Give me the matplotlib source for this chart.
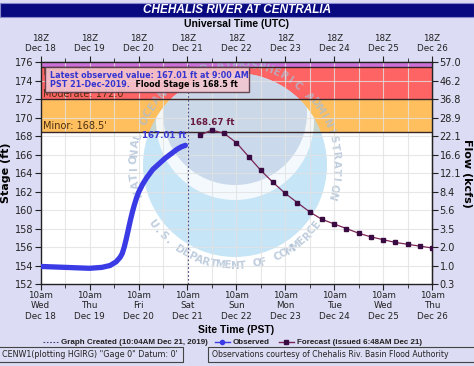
import numpy as np
import matplotlib
matplotlib.use('Agg')
import matplotlib.pyplot as plt
import matplotlib.dates as mdates
from matplotlib.patches import Rectangle, Circle
from matplotlib.lines import Line2D
from matplotlib.transforms import Affine2D
from datetime import datetime, timedelta

# ---------------- data (read off the hydrograph) ----------------
# hours after 10am PST Wed Dec 18, 2019
obs_hours = [0, 6, 12, 18, 24, 30, 34, 37, 39, 40, 41, 42, 43, 44, 45, 46,
             47, 48, 50, 52, 55, 58, 61, 64, 67, 69, 71]
obs_stage = [153.9, 153.85, 153.8, 153.75, 153.7, 153.8, 154.0, 154.4, 154.9,
             155.3, 156.0, 156.9, 157.9, 158.9, 159.8, 160.6, 161.3, 161.9,
             162.8, 163.5, 164.4, 165.0, 165.6, 166.1, 166.6, 166.85, 167.01]
fc_hours = [78, 84, 90, 96, 102, 108, 114, 120, 126, 132, 138, 144, 150, 156,
            162, 168, 174, 180, 186, 192]
fc_stage = [168.1, 168.67, 168.3, 167.3, 165.8, 164.3, 163.0, 161.8, 160.8,
            159.8, 159.0, 158.5, 158.0, 157.5, 157.1, 156.8, 156.5, 156.3,
            156.1, 155.9]
stage_ticks = [152, 154, 156, 158, 160, 162, 164, 166, 168, 170, 172, 174, 176]
flow_labels = ['0.3', '1.0', '2.0', '3.5', '5.6', '8.4', '12.1', '16.6', '22.1',
               '28.9', '36.8', '46.2', '57.0']
weekdays = ['Wed', 'Thu', 'Fri', 'Sat', 'Sun', 'Mon', 'Tue', 'Wed', 'Thu']
day_labels = ['Dec 18', 'Dec 19', 'Dec 20', 'Dec 21', 'Dec 22', 'Dec 23',
              'Dec 24', 'Dec 25', 'Dec 26']
minor_fs, moderate_fs, major_fs = 168.5, 172.0, 175.5
latest_value = 167.01
fc_peak = 168.67

t0 = datetime(2019, 12, 18, 10)
obs_t = [t0 + timedelta(hours=h) for h in obs_hours]
fc_t = [t0 + timedelta(hours=h) for h in fc_hours]
created = t0 + timedelta(hours=72, minutes=4)
day_t = [mdates.date2num(t0 + timedelta(days=i)) for i in range(len(day_labels))]
half_t = [mdates.date2num(t0 + timedelta(hours=12 + 24 * i)) for i in range(8)]

W, H = 474, 366
BG = '#DCDCF4'
fig = plt.figure(figsize=(W / 100, H / 100), dpi=100, facecolor=BG)
# pixel coordinates, origin top-left
px = Affine2D().scale(1 / W, -1 / H).translate(0, 1) + fig.transFigure

ax = fig.add_axes([40.7 / W, 1 - 284 / H, (432 - 40.7) / W, (284 - 62.3) / H])
ax.set_facecolor('white')
ax.set_xlim(mdates.date2num(t0), mdates.date2num(t0 + timedelta(hours=192)))
ax.set_ylim(152, 176)

# flood category bands
ax.axhspan(minor_fs, moderate_fs, color='#FFBF5E', zorder=0.2, lw=0)
ax.axhspan(moderate_fs, major_fs, color='#FF6464', zorder=0.2, lw=0)
ax.axhspan(major_fs, 176, color='#CC70D8', zorder=0.2, lw=0)
for s in (minor_fs, moderate_fs, major_fs):
    ax.axhline(s, color='#3A2626', lw=1, zorder=1)

# ---- NOAA watermark (rough) ----
cx, cy, r = 235, 165, 92
disc = Circle((cx, cy), r, transform=px, fc='#B4DDF3', ec='none', alpha=0.75, zorder=0.3)
ax.add_patch(disc)
wc = Circle((235, 121), 79, transform=px, fc='white', ec='none', alpha=0.8, zorder=0.31)
ax.add_patch(wc)
wc.set_clip_path(disc)
dc = Circle((235, 113), 72, transform=px, fc='#A9C1DF', ec='none', alpha=0.55, zorder=0.32)
ax.add_patch(dc)
dc.set_clip_path(disc)


def arc_text(s, rad, a0, a1, top=True):
    n = len(s)
    for i, ch in enumerate(s):
        a = a0 + (a1 - a0) * (i + 0.5) / n
        x = cx + rad * np.cos(np.radians(a))
        y = cy - rad * np.sin(np.radians(a))
        rot = a - 90 if top else a + 90
        ax.text(x, y, ch, transform=px, rotation=rot, rotation_mode='anchor',
                ha='center', va='center', fontsize=7.5, fontweight='bold',
                color='#A9BDD3', alpha=0.75, zorder=0.35, clip_on=True)


arc_text('NATIONAL OCEANIC AND ATMOSPHERIC ADMINISTRATION', 101, 198, -20, top=True)
arc_text('U.S. DEPARTMENT OF COMMERCE', 101, 214, 326, top=False)

# grid
ax.set_axisbelow(True)
ax.set_xticks(day_t)
ax.set_xticks(half_t, minor=True)
ax.set_yticks(stage_ticks)
ax.grid(which='both', color='#E2E2E2', lw=0.8, alpha=0.8)

# series
ax.plot(obs_t, obs_stage, color='#3B3BE6', lw=3.8, solid_capstyle='round', zorder=4)
ax.plot(fc_t, fc_stage, color='#7A2456', lw=0.9, marker='s', ms=3.3,
        mfc='#3A0B42', mec='#3A0B42', zorder=4)
ax.axvline(created, color='#4A4A80', lw=0.8, ls=(0, (1.5, 2)), zorder=3)

ax.text(mdates.date2num(obs_t[-1]) + 0.03, latest_value + 0.6, f'{latest_value:.2f} ft',
        ha='right', va='bottom', fontsize=6.2, fontweight='bold', color='#3B3BD6', zorder=5)
ax.text(mdates.date2num(fc_t[1]), fc_peak + 0.35, f'{fc_peak:.2f} ft',
        ha='center', va='bottom', fontsize=6.2, fontweight='bold', color='#6A1A40', zorder=5)

# category labels
lab_x = 0.006
ax.text(lab_x, major_fs, f"Major: {major_fs}'", transform=ax.get_yaxis_transform(),
        ha='left', va='top', fontsize=7, color='#4A2E10', alpha=0.6, zorder=1.5)
ax.text(lab_x, moderate_fs + 0.05, f"Moderate: {moderate_fs}'", transform=ax.get_yaxis_transform(),
        ha='left', va='bottom', fontsize=7, color='#4A2E10', zorder=1.5)
ax.text(lab_x, minor_fs + 0.05, f"Minor: {minor_fs}'", transform=ax.get_yaxis_transform(),
        ha='left', va='bottom', fontsize=7, color='#4A2E10', zorder=1.5)

# info box
box = Rectangle((45, 67), 204, 25, transform=px, fc='#F2C6D0', ec='#5A3A48',
                lw=1, alpha=0.9, zorder=6)
ax.add_patch(box)
ax.text(50, 75.5, f'Latest observed value: {latest_value:.2f} ft at 9:00 AM', transform=px,
        ha='left', va='center', fontsize=5.75, fontweight='bold', color='#3434D0', zorder=7)
t1 = ax.text(50, 84.5, 'PST 21-Dec-2019.', transform=px, ha='left', va='center',
             fontsize=5.75, fontweight='bold', color='#3434D0', zorder=7)
ax.annotate(f'  Flood Stage is {minor_fs} ft', xy=(1, 0.5), xycoords=t1, ha='left',
            va='center', fontsize=5.75, fontweight='bold', color='black', zorder=7)

# axes styling
for sp in ax.spines.values():
    sp.set_color('#222222')
    sp.set_linewidth(1)
ax.tick_params(which='both', direction='out', colors='#222222', labelsize=6.3)
ax.tick_params(which='major', length=4, pad=1)
ax.tick_params(which='minor', length=3)
ax.set_xticklabels([f'10am\n{w}\n{d}' for w, d in zip(weekdays, day_labels)])
ax.set_yticklabels([str(s) for s in stage_ticks], fontsize=7)
ax.set_ylabel('Stage (ft)', fontsize=8, fontweight='bold', labelpad=3)
ax.set_xlabel('Site Time (PST)', fontsize=7.5, fontweight='bold',
              family='Liberation Sans', labelpad=3)

top = ax.secondary_xaxis('top')
top.set_xticks(day_t)
top.set_xticks(half_t, minor=True)
top.set_xticklabels([f'18Z\n{d}' for d in day_labels])
top.tick_params(which='both', direction='out', colors='#222222', labelsize=6.3)
top.tick_params(which='major', length=4, pad=2.5)
top.tick_params(which='minor', length=3)
top.set_xlabel('Universal Time (UTC)', fontsize=7.5, fontweight='bold',
               family='Liberation Sans', labelpad=5)

right = ax.secondary_yaxis('right')
right.set_yticks(stage_ticks)
right.set_yticklabels(flow_labels, fontsize=7)
right.tick_params(direction='out', colors='#222222', length=4, pad=1.5)
right.set_ylabel('Flow (kcfs)', fontsize=8, fontweight='bold', rotation=-90, labelpad=8)

# ---- title bar, legend row, footer (pixel coords) ----
fig.patches.append(Rectangle((0, 3), W, 13.5, transform=px, fc='#0A0A80', ec='#8888CC', lw=0.8))
fig.text(237, 10, 'CHEHALIS RIVER AT CENTRALIA', transform=px, ha='center', va='center',
         fontsize=8.5, fontweight='bold', fontstyle='italic', family='Liberation Sans',
         color='white')

leg_y = 342
fs_leg = 5.8
fig.lines.append(Line2D([43, 58], [leg_y, leg_y], transform=px, color='#444477', lw=0.8,
                        ls=(0, (1.5, 1.5))))
fig.text(61, leg_y, 'Graph Created (10:04AM Dec 21, 2019)', transform=px, ha='left',
         va='center', fontsize=fs_leg, fontweight='bold', family='Liberation Sans', color='#222222')
fig.lines.append(Line2D([215, 222, 230], [leg_y] * 3, transform=px, color='#3B3BE6', lw=1,
                        marker='o', markevery=[1], ms=3))
fig.text(233, leg_y, 'Observed', transform=px, ha='left', va='center', fontsize=fs_leg,
         fontweight='bold', family='Liberation Sans', color='#222222')
fig.lines.append(Line2D([279, 286, 294], [leg_y] * 3, transform=px, color='#7A2456', lw=1,
                        marker='s', markevery=[1], ms=3, mfc='#3A0B42', mec='#3A0B42'))
fig.text(297, leg_y, 'Forecast (issued 6:48AM Dec 21)', transform=px, ha='left', va='center',
         fontsize=fs_leg, fontweight='bold', family='Liberation Sans', color='#222222')

fig.patches.append(Rectangle((-2, 347), 185, 15, transform=px, fc=BG, ec='#444444', lw=0.8))
fig.text(2, 354.5, 'CENW1(plotting HGIRG) "Gage 0" Datum: 0\'', transform=px, ha='left',
         va='center', fontsize=5.8, color='#222222')
fig.patches.append(Rectangle((208, 347), 270, 15, transform=px, fc=BG, ec='#444444', lw=0.8))
fig.text(212, 354.5, 'Observations courtesy of Chehalis Riv. Basin Flood Authority',
         transform=px, ha='left', va='center', fontsize=5.6, color='#222222')

fig.savefig('out.png', dpi=100, facecolor=BG)
